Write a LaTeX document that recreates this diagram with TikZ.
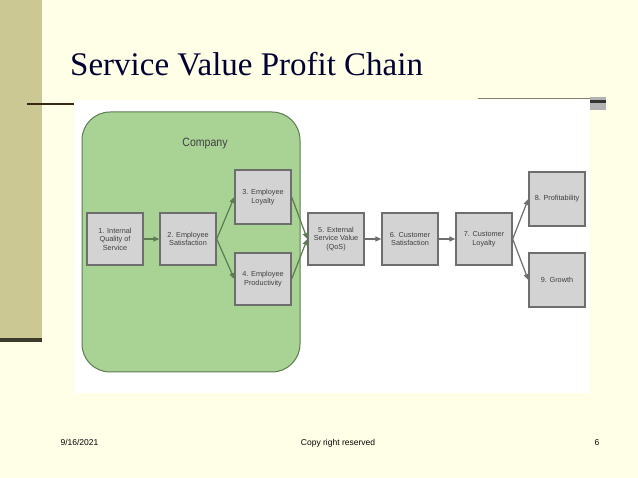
\documentclass[tikz,border=0pt]{standalone}
\usepackage{fontspec}
\setmainfont{Liberation Serif}
\newfontfamily\arial{Liberation Sans}
\usetikzlibrary{arrows.meta}
\definecolor{bgc}{HTML}{FFFFE8}
\definecolor{olive}{HTML}{CCC894}
\definecolor{grn}{HTML}{A9D295}
\definecolor{grnd}{HTML}{5C7C52}
\definecolor{boxf}{HTML}{D3D3D3}
\definecolor{boxd}{HTML}{6E6E6E}
\tikzset{
 box/.style={draw=boxd,line width=1.4pt,fill=boxf,minimum width=56pt,minimum height=52pt,align=center,font=\arial\fontsize{7.3}{8.5}\selectfont,text=black!75,inner sep=1pt},
 garr/.style={draw=grnd,line width=1.2pt,-{Triangle[length=6pt,width=5pt]}},
 karr/.style={draw=boxd,line width=1.2pt,-{Triangle[length=6pt,width=5pt]}},
 foot/.style={font=\arial\fontsize{8.5}{10}\selectfont,anchor=base}
}
\begin{document}
\begin{tikzpicture}[x=1pt,y=-1pt]
\useasboundingbox (0,0) rectangle (638,478);
\fill[bgc] (0,0) rectangle (638,478);
\fill[olive] (0,0) rectangle (42,340);
\fill[black!70!olive] (0,338) rectangle (42,342);
\draw[line width=1.5pt,color=black!70!brown] (27,104) -- (74,104);
\node[anchor=base west,font=\fontsize{33}{36}\selectfont,text=black!80!blue,inner sep=0] (title) at (70,76) {Service Value Profit Chain};
\fill[white] (74,100) rectangle (590,393);
\draw[line width=1pt,color=gray] (478,99) -- (590,99);
\fill[gray!60] (590,97) rectangle (606,110);
\fill[black!80] (590,100) rectangle (606,103);
\draw[fill=grn,draw=grnd,line width=1pt,rounded corners=28pt] (82,112) rectangle (300,372);
\node[font=\arial\fontsize{12}{13}\selectfont,text=black!75,xscale=0.88] (comp) at (205,144) {Company};
\node[box] (b1) at (115,239) {1. Internal\\Quality of\\Service};
\node[box] (b2) at (188,239) {2. Employee\\Satisfaction};
\node[box,minimum height=54pt] (b3) at (263,197) {3. Employee\\Loyalty};
\node[box] (b4) at (263,279) {4. Employee\\Productivity};
\node[box] (b5) at (336,239) {5. External\\Service Value\\(QoS)};
\node[box] (b6) at (410,239) {6. Customer\\Satisfaction};
\node[box] (b7) at (484,239) {7. Customer\\Loyalty};
\node[box,minimum height=54pt] (b8) at (557,199) {8. Profitability};
\node[box,minimum height=54pt] (b9) at (557,280) {9. Growth};
\draw[garr] (b1) -- (b2);
\draw[garr] (b2.east) -- (b3.west);
\draw[garr] (b2.east) -- (b4.west);
\draw[garr] (b3.east) -- (b5.west);
\draw[garr] (b4.east) -- (b5.west);
\draw[karr] (b5) -- (b6);
\draw[karr] (b6) -- (b7);
\draw[karr] (b7.east) -- (b8.west);
\draw[karr] (b7.east) -- (b9.west);
\node[foot,anchor=base west] (d) at (57,446) {9/16/2021};
\node[foot] (c) at (338,446) {Copy right reserved};
\node[foot,anchor=base east] (p) at (603,446) {6};
\end{tikzpicture}
\end{document}
